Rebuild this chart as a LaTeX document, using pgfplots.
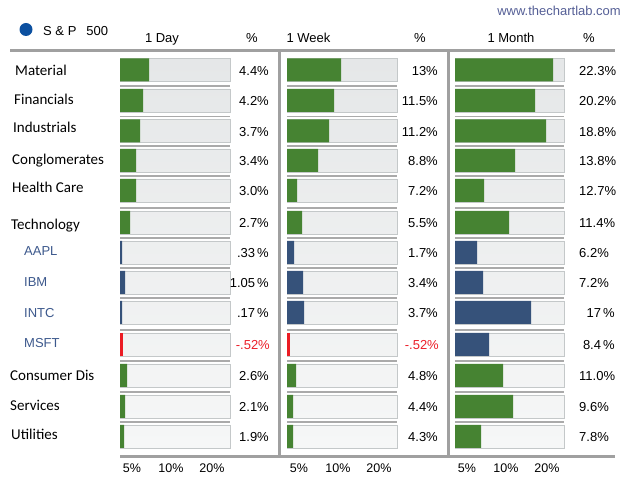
\documentclass[border=0pt]{standalone}
\usepackage{pgfplots}
\pgfplotsset{compat=1.18}
\usepackage{fontspec}
\setmainfont{Liberation Sans}
\newfontfamily\rowfont{Carlito}

\definecolor{bargreen}{RGB}{70,131,50}
\definecolor{barblue}{RGB}{54,82,122}
\definecolor{barred}{RGB}{235,28,36}
\definecolor{boxtop}{RGB}{229,231,232}
\definecolor{boxbot}{RGB}{246,247,247}
\definecolor{boxline}{RGB}{196,200,201}
\definecolor{sepline}{RGB}{170,170,170}
\definecolor{heavyline}{RGB}{160,160,160}
\definecolor{dotblue}{RGB}{12,80,160}
\definecolor{webblue}{RGB}{85,95,150}
\definecolor{stockblue}{RGB}{60,88,140}
\definecolor{negred}{RGB}{235,30,40}

\pgfplotsset{
  panel/.style={
    anchor=south west, x=1pt, y=1pt, xmin=0, ymin=-457, ymax=-51,
    clip=false, axis line style={draw=none}, ytick=\empty,
    xtick={12,51,92}, xticklabels={5\%,10\%,20\%},
    major tick length=0pt,
    xticklabel style={font=\fontsize{12.5}{14}\selectfont, yshift=-3pt},
  },
  box/.style={xbar, bar width=23, bar shift=0pt, draw=boxline, line width=0.8pt,
    top color=boxtop, bottom color=boxbot},
  val/.style={xbar, bar width=23, bar shift=0pt, draw=none, fill=#1},
}

\begin{document}
\begin{tikzpicture}[x=1pt, y=1pt,
  rowlab/.style={font=\rowfont\fontsize{15}{17}\selectfont, inner sep=0pt},
  stock/.style={font=\fontsize{13}{15}\selectfont, text=stockblue, inner sep=0pt},
  vlab/.style={font=\fontsize{13}{15}\selectfont, inner sep=0pt},
  hd/.style={font=\fontsize{13}{15}\selectfont, inner sep=0pt, anchor=base}]
\path[use as bounding box] (0,0) rectangle (633,488);

% frame lines
\draw[heavyline, line width=3pt] (10,437) -- (615,437);
\draw[heavyline, line width=3pt] (279,437) -- (279,31);
\draw[heavyline, line width=3pt] (448,437) -- (448,31);
\draw[heavyline, line width=3pt] (120,31) -- (615,31);

% row separators
\foreach \L/\W in {120/110, 287/110, 455/109} {
  \foreach \c in {100.5,131,160.5,190.5,222.5,252.5,282.5,312.5,344.5,375.5,406.5,436.5} {
    \draw[sepline, line width=1.5pt] ({\L},{488-\c+14.5}) -- ({\L+\W},{488-\c+14.5});
  }
}

% 1 Day
\begin{axis}[panel, at={(120,31)}, xmax=110]
\addplot[box] coordinates {(110,-70) (110,-100.5) (110,-131) (110,-160.5) (110,-190.5)
  (110,-222.5) (110,-252.5) (110,-282.5) (110,-312.5) (110,-344.5) (110,-375.5)
  (110,-406.5) (110,-436.5)};
\addplot[val=bargreen] coordinates {(29,-70) (23,-100.5) (20,-131) (16,-160.5)
  (16,-190.5) (10,-222.5) (7,-375.5) (5,-406.5) (4,-436.5)};
\addplot[val=barblue] coordinates {(2,-252.5) (5,-282.5) (2,-312.5)};
\addplot[val=barred] coordinates {(3,-344.5)};
\end{axis}

% 1 Week
\begin{axis}[panel, at={(287,31)}, xmax=110]
\addplot[box] coordinates {(110,-70) (110,-100.5) (110,-131) (110,-160.5) (110,-190.5)
  (110,-222.5) (110,-252.5) (110,-282.5) (110,-312.5) (110,-344.5) (110,-375.5)
  (110,-406.5) (110,-436.5)};
\addplot[val=bargreen] coordinates {(54,-70) (47,-100.5) (42,-131) (31,-160.5)
  (10,-190.5) (15,-222.5) (9,-375.5) (6,-406.5) (6,-436.5)};
\addplot[val=barblue] coordinates {(7,-252.5) (16,-282.5) (17,-312.5)};
\addplot[val=barred] coordinates {(3,-344.5)};
\end{axis}

% 1 Month
\begin{axis}[panel, at={(455,31)}, xmax=109]
\addplot[box] coordinates {(109,-70) (109,-100.5) (109,-131) (109,-160.5) (109,-190.5)
  (109,-222.5) (109,-252.5) (109,-282.5) (109,-312.5) (109,-344.5) (109,-375.5)
  (109,-406.5) (109,-436.5)};
\addplot[val=bargreen] coordinates {(98,-70) (80,-100.5) (91,-131) (60,-160.5)
  (29,-190.5) (54,-222.5) (48,-375.5) (58,-406.5) (26,-436.5)};
\addplot[val=barblue] coordinates {(22,-252.5) (28,-282.5) (76,-312.5) (34,-344.5)};
\end{axis}

% header
\fill[dotblue] (26,458.5) circle (6.5pt);
\node[vlab, anchor=base west] at (43,452) {S \& P\hspace{10pt}500};
\node[font=\fontsize{13}{15}\selectfont, text=webblue, inner sep=0pt, anchor=base east] at (621,472) {www.thechartlab.com};
\node[hd] at (162,445) {1 Day};
\node[hd] at (252,445) {\%};
\node[hd] at (308.5,445) {1 Week};
\node[hd] at (420,445) {\%};
\node[hd] at (511,445) {1 Month};
\node[hd] at (589,445) {\%};

% row labels
\node[rowlab, anchor=base west] at (15,{488-76}) {Material};
\node[rowlab, anchor=base west] at (14,{488-105}) {Financials};
\node[rowlab, anchor=base west] at (13,{488-133}) {Industrials};
\node[rowlab, anchor=base west] at (12,{488-165}) {Conglomerates};
\node[rowlab, anchor=base west] at (12,{488-193}) {Health Care};
\node[rowlab, anchor=base west] at (11,{488-230}) {Technology};
\node[stock, anchor=base west] at (24,{488-256}) {AAPL};
\node[stock, anchor=base west] at (24,{488-287}) {IBM};
\node[stock, anchor=base west] at (24,{488-318}) {INTC};
\node[stock, anchor=base west] at (24,{488-348}) {MSFT};
\node[rowlab, anchor=base west] at (10,{488-381}) {Consumer Dis};
\node[rowlab, anchor=base west] at (10,{488-411}) {Services};
\node[rowlab, anchor=base west] at (11,{488-440}) {Utilities};

% value labels, 1 Day
\foreach \c/\t in {70/4.4\%, 100.5/4.2\%, 131/3.7\%, 160.5/3.4\%, 190.5/3.0\%,
  222.5/2.7\%, 252.5/.33\,\%, 282.5/1.05\,\%, 312.5/.17\,\%, 375.5/2.6\%,
  406.5/2.1\%, 436.5/1.9\%}
  \node[vlab, anchor=base east] at (269,{488-\c-5.5}) {\t};
\node[vlab, anchor=base east, text=negred] at (270,{488-344.5-5.5}) {-.52\%};

% value labels, 1 Week
\foreach \c/\t in {70/13\%, 100.5/11.5\%, 131/11.2\%, 160.5/8.8\%, 190.5/7.2\%,
  222.5/5.5\%, 252.5/1.7\%, 282.5/3.4\%, 312.5/3.7\%, 375.5/4.8\%,
  406.5/4.4\%, 436.5/4.3\%}
  \node[vlab, anchor=base east] at (438,{488-\c-5.5}) {\t};
\node[vlab, anchor=base east, text=negred] at (439,{488-344.5-5.5}) {-.52\%};

% value labels, 1 Month
\foreach \c/\t in {70/22.3\%, 100.5/20.2\%, 131/18.8\%, 160.5/13.8\%, 190.5/12.7\%,
  222.5/11.4\%, 252.5/6.2\%, 282.5/7.2\%, 375.5/11.0\%,
  406.5/9.6\%, 436.5/7.8\%}
  \node[vlab, anchor=base west] at (579,{488-\c-5.5}) {\t};
\node[vlab, anchor=base east] at (615,{488-312.5-5.5}) {17\,\%};
\node[vlab, anchor=base east] at (615,{488-344.5-5.5}) {8.4\,\%};

\end{tikzpicture}
\end{document}
